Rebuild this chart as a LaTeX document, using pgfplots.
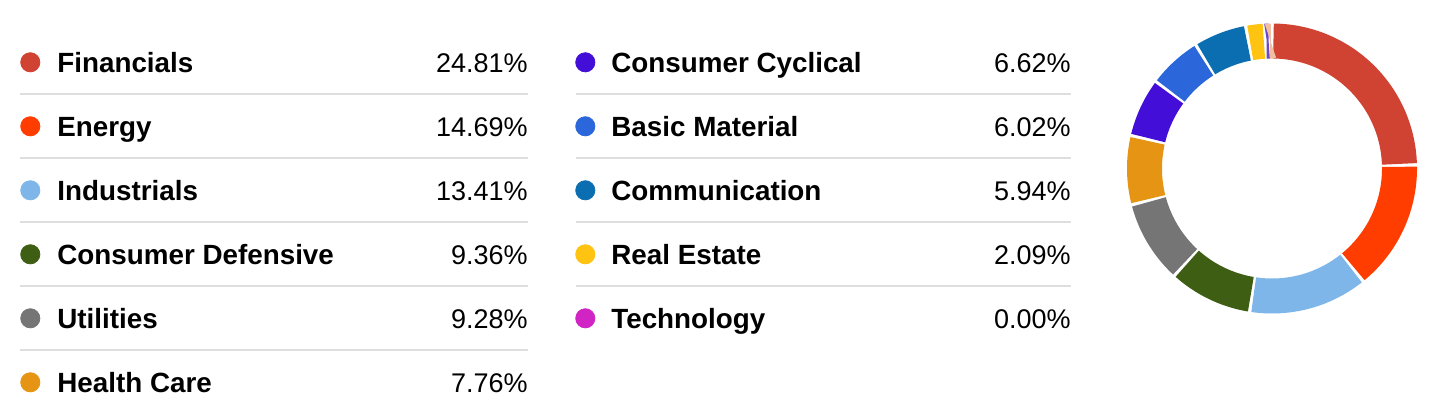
\documentclass[border=0pt]{standalone}
\usepackage{fontspec}
\setmainfont{Liberation Sans}
\usepackage{pgfplots}
\pgfplotsset{compat=1.18}
\definecolor{cFin}{RGB}{208,66,50}
\definecolor{cEne}{RGB}{255,61,0}
\definecolor{cInd}{RGB}{126,182,234}
\definecolor{cDef}{RGB}{62,94,20}
\definecolor{cUti}{RGB}{117,117,117}
\definecolor{cHea}{RGB}{229,148,19}
\definecolor{cCyc}{RGB}{66,14,216}
\definecolor{cBas}{RGB}{43,102,219}
\definecolor{cCom}{RGB}{11,110,177}
\definecolor{cRea}{RGB}{255,195,18}
\definecolor{cTec}{RGB}{208,36,196}
\definecolor{cSl1}{RGB}{110,70,200}
\definecolor{cSl2}{RGB}{240,190,160}
\definecolor{cSep}{RGB}{222,222,222}
\newcommand{\lab}{\fontsize{13.9}{16}\selectfont\bfseries}
\newcommand{\val}{\fontsize{13.5}{16}\selectfont}
% ring: centre (1272,168.5), line centred at radius 127.5, 35 px thick
\newcommand{\seg}[3]{\addplot[draw=#1, line width=17.5pt, domain=#2:#3, samples=60, smooth]
  ({1272+127.5*sin(x)},{168.5-127.5*cos(x)});}
\begin{document}
\begin{tikzpicture}
\begin{axis}[name=ax, x=0.5pt, y=0.5pt, y dir=reverse, xmin=0, xmax=1430, ymin=0, ymax=417,
  hide axis, scale only axis, clip=false]
% separators
\foreach \yy in {94,158,222,286,350}{
  \edef\tmp{\noexpand\addplot[cSep, line width=1pt] coordinates {(20,\yy) (528,\yy)};}\tmp }
\foreach \yy in {94,158,222,286}{
  \edef\tmp{\noexpand\addplot[cSep, line width=1pt] coordinates {(576,\yy) (1071,\yy)};}\tmp }
% legend dots
\addplot[only marks, mark=*, mark size=4.8pt, cFin] coordinates {(30.3,62.3)};
\addplot[only marks, mark=*, mark size=4.8pt, cEne] coordinates {(30.3,126.3)};
\addplot[only marks, mark=*, mark size=4.8pt, cInd] coordinates {(30.3,190.3)};
\addplot[only marks, mark=*, mark size=4.8pt, cDef] coordinates {(30.3,254.3)};
\addplot[only marks, mark=*, mark size=4.8pt, cUti] coordinates {(30.3,318.3)};
\addplot[only marks, mark=*, mark size=4.8pt, cHea] coordinates {(30.3,382.3)};
\addplot[only marks, mark=*, mark size=4.8pt, cCyc] coordinates {(585.3,62.3)};
\addplot[only marks, mark=*, mark size=4.8pt, cBas] coordinates {(585.3,126.3)};
\addplot[only marks, mark=*, mark size=4.8pt, cCom] coordinates {(585.3,190.3)};
\addplot[only marks, mark=*, mark size=4.8pt, cRea] coordinates {(585.3,254.3)};
\addplot[only marks, mark=*, mark size=4.8pt, cTec] coordinates {(585.3,318.3)};
% labels
\node[anchor=base west, font=\lab, inner xsep=0pt] at (axis cs:57,72.5) {Financials};
\node[anchor=base west, font=\lab, inner xsep=0pt] at (axis cs:57,136.5) {Energy};
\node[anchor=base west, font=\lab, inner xsep=0pt] at (axis cs:57,200.5) {Industrials};
\node[anchor=base west, font=\lab, inner xsep=0pt] at (axis cs:57,264.5) {Consumer Defensive};
\node[anchor=base west, font=\lab, inner xsep=0pt] at (axis cs:57,328.5) {Utilities};
\node[anchor=base west, font=\lab, inner xsep=0pt] at (axis cs:57,392.5) {Health Care};
\node[anchor=base west, font=\lab, inner xsep=0pt] at (axis cs:611,72.5) {Consumer Cyclical};
\node[anchor=base west, font=\lab, inner xsep=0pt] at (axis cs:611,136.5) {Basic Material};
\node[anchor=base west, font=\lab, inner xsep=0pt] at (axis cs:611,200.5) {Communication};
\node[anchor=base west, font=\lab, inner xsep=0pt] at (axis cs:611,264.5) {Real Estate};
\node[anchor=base west, font=\lab, inner xsep=0pt] at (axis cs:611,328.5) {Technology};
% values
\node[anchor=base east, font=\val, inner xsep=0pt] at (axis cs:528,72.5) {24.81\%};
\node[anchor=base east, font=\val, inner xsep=0pt] at (axis cs:528,136.5) {14.69\%};
\node[anchor=base east, font=\val, inner xsep=0pt] at (axis cs:528,200.5) {13.41\%};
\node[anchor=base east, font=\val, inner xsep=0pt] at (axis cs:528,264.5) {9.36\%};
\node[anchor=base east, font=\val, inner xsep=0pt] at (axis cs:528,328.5) {9.28\%};
\node[anchor=base east, font=\val, inner xsep=0pt] at (axis cs:528,392.5) {7.76\%};
\node[anchor=base east, font=\val, inner xsep=0pt] at (axis cs:1071,72.5) {6.62\%};
\node[anchor=base east, font=\val, inner xsep=0pt] at (axis cs:1071,136.5) {6.02\%};
\node[anchor=base east, font=\val, inner xsep=0pt] at (axis cs:1071,200.5) {5.94\%};
\node[anchor=base east, font=\val, inner xsep=0pt] at (axis cs:1071,264.5) {2.09\%};
\node[anchor=base east, font=\val, inner xsep=0pt] at (axis cs:1071,328.5) {0.00\%};
% donut segments (angles clockwise from top, from cumulative shares)
\seg{cFin}{0.65}{87.93}
\seg{cEne}{89.23}{140.38}
\seg{cInd}{141.68}{188.26}
\seg{cDef}{189.56}{221.68}
\seg{cUti}{222.98}{254.81}
\seg{cHea}{256.11}{282.52}
\seg{cCyc}{283.82}{306.16}
\seg{cBas}{307.46}{327.65}
\seg{cCom}{328.95}{348.86}
\seg{cRea}{350.16}{356.32}
\seg{cSl1}{357.6}{358.5}
\seg{cSl2}{359.2}{359.45}
\end{axis}
\path (ax.south west) rectangle (ax.north east);
\end{tikzpicture}
\end{document}
